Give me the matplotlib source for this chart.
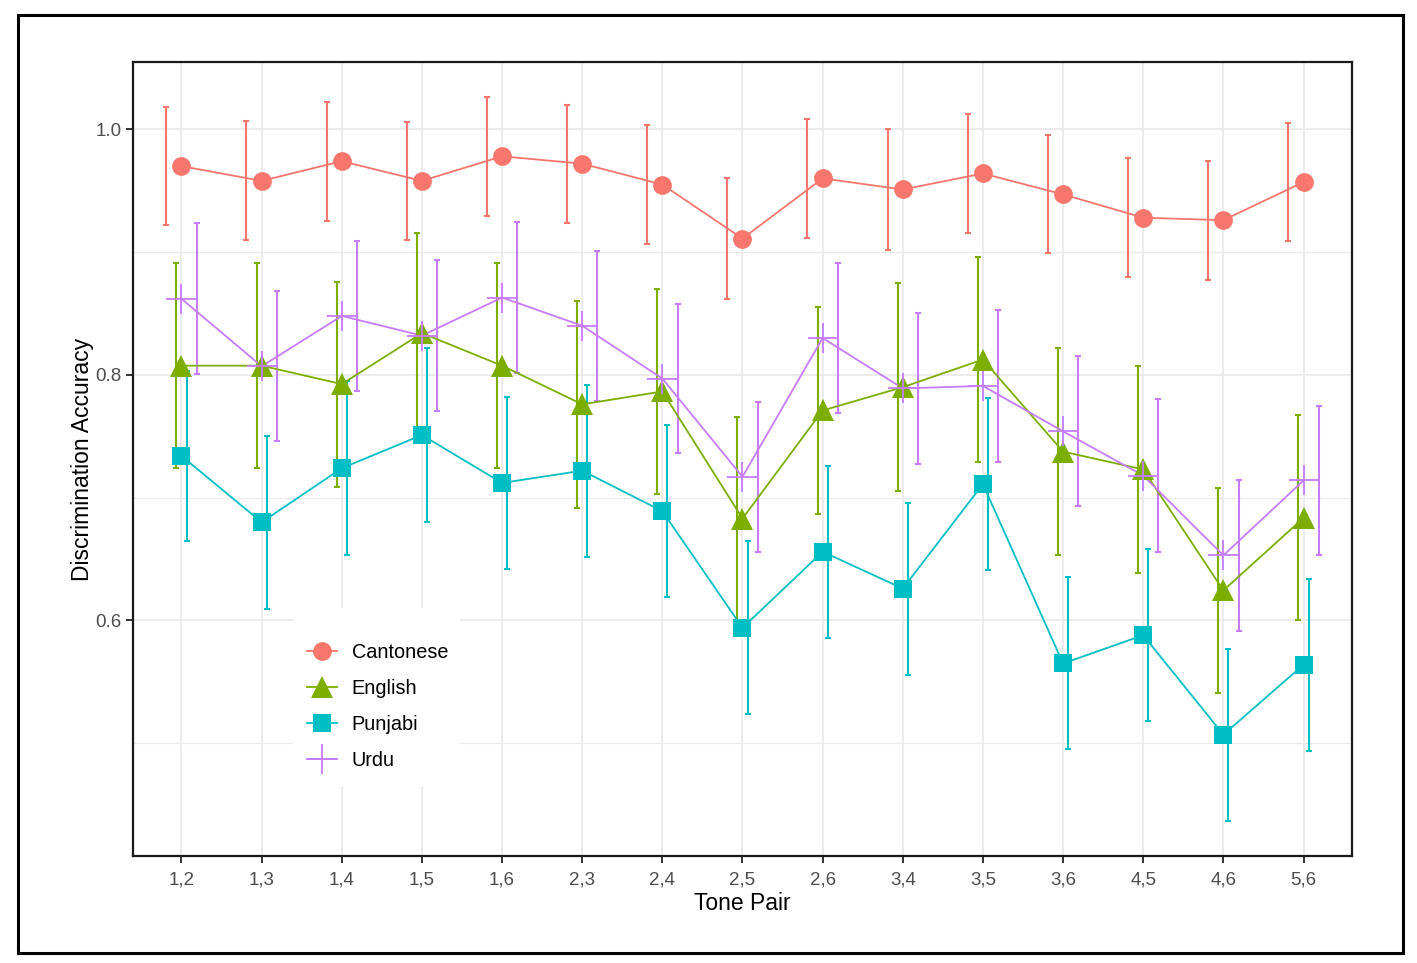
import numpy as np
import matplotlib
matplotlib.use("Agg")
import matplotlib.pyplot as plt
from matplotlib.lines import Line2D
from matplotlib.patches import Rectangle

plt.rcParams['font.family'] = ['Liberation Sans', 'DejaVu Sans']

pairs = ['1,2', '1,3', '1,4', '1,5', '1,6', '2,3', '2,4', '2,5',
         '2,6', '3,4', '3,5', '3,6', '4,5', '4,6', '5,6']

cantonese = [0.970, 0.958, 0.974, 0.958, 0.978, 0.972, 0.955, 0.911,
             0.960, 0.951, 0.964, 0.947, 0.928, 0.926, 0.957]
cantonese_se = [0.048, 0.0485, 0.0485, 0.048, 0.0485, 0.048, 0.0485, 0.049,
                0.0485, 0.049, 0.0485, 0.048, 0.0485, 0.0485, 0.048]

english = [0.8075, 0.8075, 0.7925, 0.834, 0.8075, 0.776, 0.7865, 0.683,
           0.771, 0.790, 0.8125, 0.7375, 0.723, 0.6245, 0.6835]
english_se = [0.0835, 0.0835, 0.0835, 0.0815, 0.0835, 0.084, 0.0835, 0.083,
              0.0845, 0.0845, 0.0835, 0.0845, 0.084, 0.0835, 0.0835]

punjabi = [0.734, 0.680, 0.724, 0.751, 0.712, 0.722, 0.689, 0.594,
           0.656, 0.626, 0.711, 0.565, 0.588, 0.507, 0.564]
punjabi_se = [0.069, 0.0705, 0.071, 0.0705, 0.070, 0.070, 0.070, 0.0705,
              0.070, 0.070, 0.070, 0.070, 0.070, 0.070, 0.070]

urdu = [0.862, 0.807, 0.848, 0.832, 0.863, 0.840, 0.797, 0.717,
        0.830, 0.789, 0.791, 0.754, 0.718, 0.653, 0.714]
urdu_se = [0.0615, 0.061, 0.061, 0.0615, 0.0615, 0.061, 0.061, 0.061,
           0.061, 0.0615, 0.062, 0.061, 0.062, 0.0615, 0.061]

groups = ['Cantonese', 'English', 'Punjabi', 'Urdu']
means = [cantonese, english, punjabi, urdu]
errs = [cantonese_se, english_se, punjabi_se, urdu_se]
colors = ['#F8766D', '#7CAE00', '#00BFC4', '#C77CFF']
markers = ['o', '^', 's', '+']
msizes = [13.5, 16, 13, 21]
dodge = [-0.19, -0.063, 0.063, 0.19]

W, H = 1417, 963
fig = plt.figure(figsize=(W / 100, H / 100), dpi=100)
ax = fig.add_axes([133 / W, 1 - 856 / H, (1352 - 133) / W, (856 - 62) / H])

x = np.arange(len(pairs))
for i, g in enumerate(groups):
    ax.errorbar(x + dodge[i], means[i], yerr=errs[i], fmt='none',
                ecolor=colors[i], elinewidth=1.5, capsize=2.2, capthick=1.5,
                zorder=2 + i * 0.01)
for i, g in enumerate(groups):
    ax.plot(x, means[i], color=colors[i], lw=1.3, zorder=2.5 + i * 0.01)
    mew = 1.3 if markers[i] == '+' else 0
    ax.plot(x, means[i], ls='none', marker=markers[i], ms=msizes[i],
            color=colors[i], mew=mew, zorder=3 + i * 0.01)

ax.set_xlim(-0.605, 14.605)
ax.set_ylim(0.4082, 1.0548)
ax.set_xticks(x)
ax.set_xticklabels(pairs)
ax.set_yticks([0.6, 0.8, 1.0])
ax.set_yticklabels(['0.6', '0.8', '1.0'])
ax.set_yticks([0.5, 0.7, 0.9], minor=True)
ax.tick_params(axis='y', which='minor', length=0)
ax.tick_params(which='major', length=5, width=1.4, color='#333333',
               labelsize=13.5, labelcolor='#4D4D4D', pad=3)
ax.tick_params(axis='x', which='major', pad=6)
ax.set_axisbelow(True)
ax.grid(True, which='major', color='#EBEBEB', lw=1.3)
ax.grid(True, which='minor', axis='y', color='#EBEBEB', lw=0.9)
for s in ax.spines.values():
    s.set_color('#1a1a1a')
    s.set_linewidth(1.6)

ax.set_xlabel('Tone Pair', fontsize=16.5, labelpad=3)
ax.set_ylabel('Discrimination Accuracy', fontsize=16.5, labelpad=1)

# white legend background over the grid
ax.add_patch(Rectangle((293 / W, 1 - 787 / H), (460 - 293) / W, (787 - 608) / H,
                       transform=fig.transFigure, facecolor='white',
                       edgecolor='none', zorder=1.5))

handles = []
for i, g in enumerate(groups):
    mew = 1.3 if markers[i] == '+' else 0
    handles.append(Line2D([], [], color=colors[i], lw=1.3, marker=markers[i],
                          ms=msizes[i], mew=mew))
ax.legend(handles, groups, loc='upper left',
          bbox_to_anchor=(307 / W, 1 - 643 / H), bbox_transform=fig.transFigure,
          frameon=False, fontsize=14.3, handlelength=1.5, handletextpad=0.75,
          labelspacing=0.85, borderpad=0, borderaxespad=0)

# outer frame
fig.patches.append(Rectangle((18 / W, 1 - 953 / H), (1403 - 18) / W, (953 - 15) / H,
                             transform=fig.transFigure, fill=False,
                             edgecolor='black', lw=2.2))

fig.savefig('out.png', dpi=100)
